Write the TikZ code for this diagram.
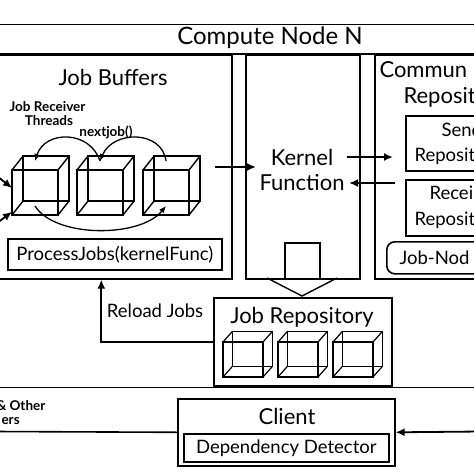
\documentclass[tikz,border=0pt]{standalone}
\usepackage{fontspec}
\setmainfont{Lato}
\usetikzlibrary{arrows.meta}

\tikzset{
  box/.style={draw, line width=1.6pt, inner sep=0pt, anchor=north west},
  big/.style={font=\fontsize{22}{24}\selectfont},
  mid/.style={font=\fontsize{18.5}{20}\selectfont},
  tiny/.style={font=\bfseries\fontsize{13.5}{14}\selectfont},
  arr/.style={line width=1.8pt, -{Latex[length=9pt,width=8pt]}},
  thin arr/.style={line width=1.3pt, -{Latex[length=7pt,width=6pt]}},
  pics/jobcube/.style={code={
    \draw (0,0) rectangle (1,1);
    \draw (0.24,-0.31) rectangle (1.24,0.69);
    \draw (0,0) -- (0.24,-0.31) (1,0) -- (1.24,-0.31)
          (0,1) -- (0.24,0.69) (1,1) -- (1.24,0.69);
    \coordinate (-top) at (0.5,-0.2);
    \coordinate (-bot) at (0.5,0.8);
    \coordinate (-w1) at (0,0.4);
    \coordinate (-w2) at (0,0.93);
  }}
}

\begin{document}
\begin{tikzpicture}[x=1pt,y=-1pt]
\useasboundingbox (0,0) rectangle (474,474);

% compute node frame
\node[box, line width=1.3pt, minimum width=500pt, minimum height=363pt] (compute) at (-13,24) {};
\draw[line width=1.8pt] (compute.west |- 0,54) -- (compute.east |- 0,54);
\node[font=\fontsize{24}{26}\selectfont] (ctitle) at (270,38) {Compute Node N};

% job buffers
\node[box, minimum width=241pt, minimum height=224pt] (buffers) at (-10,54) {};
\node[big] (btitle) at (113,77) {Job Buffers};
\node[tiny, anchor=west] (recv1) at (6,107) {Job Receiver};
\node[tiny] (recv2) at (49,121) {Threads};
\node[tiny] (next) at (106,132) {nextjob()};
\pic[line width=1.4pt, xscale=46, yscale=45] (c1) at (12,170) {jobcube};
\pic[line width=1.4pt, xscale=46, yscale=45] (c2) at (77,170) {jobcube};
\pic[line width=1.4pt, xscale=46, yscale=45] (c3) at (143,170) {jobcube};
\draw[thin arr] (c2-top) .. controls (90,130) and (45,130) .. (c1-top);
\draw[thin arr] (c3-top) .. controls (162,130) and (113,130) .. (c2-top);
\draw[thin arr] (c1-bot) .. controls (55,238) and (140,238) .. (c3-bot);
\coordinate (in1) at (-3,176);
\coordinate (in2) at (-3,223);
\draw[arr] (in1) -- (c1-w1);
\draw[arr] (in2) -- (c1-w2);
\node[box, minimum width=214pt, minimum height=31pt] (process) at (7,238) {};
\node[mid] at (process.center) {ProcessJobs(kernelFunc)};

% kernel
\node[box, minimum width=114pt, minimum height=224pt] (kernel) at (245,54) {};
\node[big] (kern) at (302,157) {Kernel};
\node[big] (func) at (302,183) {Function};
% big arrow down to the job repository
\draw[line width=1.4pt] (285,278) -- (285,243) -- (320,243) -- (320,278);
\draw[line width=1.4pt] (267,278) -- (302,296) -- (337,278);

% communication repository
\node[box, minimum width=120pt, minimum height=224pt] (comm) at (374,54) {};
\node[big, anchor=west] at (376,70) {Commun};
\node[big, anchor=west] at (400,97) {Reposit};
\node[box, minimum width=85pt, minimum height=55pt] (send) at (405,115) {};
\node[mid, anchor=west] at (438,130) {Send};
\node[mid, anchor=west] at (411,156) {Reposit};
\node[box, minimum width=85pt, minimum height=56pt] (rcv) at (405,179) {};
\node[mid, anchor=west] at (426,193) {Recei};
\node[mid, anchor=west] at (411,220) {Reposit};
\node[box, rounded corners=8pt, minimum width=104pt, minimum height=32pt] (jobnode) at (386,241) {};
\node[mid, anchor=west] at (396,258) {Job-Nod};

% job repository
\node[box, minimum width=178pt, minimum height=88pt] (repo) at (213,297) {};
\node[big] (rtitle) at (302,317) {Job Repository};
\pic[line width=1.2pt, xscale=40, yscale=35] (r1) at (223,342) {jobcube};
\pic[line width=1.2pt, xscale=40, yscale=35] (r2) at (278,342) {jobcube};
\pic[line width=1.2pt, xscale=40, yscale=35] (r3) at (333,342) {jobcube};

% client
\node[box, minimum width=217pt, minimum height=67pt] (client) at (177,398) {};
\node[big] (ctext) at (287,416) {Client};
\node[box, minimum width=205pt, minimum height=28pt] (detect) at (183,433) {};
\node[mid] at (detect.center) {Dependency Detector};
\node[tiny, anchor=west] (oth1) at (-7,406) {\& Other};
\node[tiny, anchor=west] (oth2) at (-2,421) {ers};
\coordinate (others) at (-5,431.5);
\coordinate (outside) at (480,431.5);

% connectors
\coordinate (bufout) at (215,167);
\draw[arr] (bufout) -- (bufout -| func.west);
\draw[arr, shorten <=10pt, shorten >=12pt] (kern.east) -- (kern.east -| send.west);
\draw[arr, shorten <=10pt, shorten >=1pt] (func.east -| rcv.west) -- (func.east);
\draw[arr] (repo.west) -| ([xshift=-10pt]buffers.south);
\node[mid] (reload) at (155,311) {Reload Jobs};
\draw[line width=1.6pt] (client.west) -- (others);
\draw[arr] (outside) -- (client.east);
\end{tikzpicture}
\end{document}
